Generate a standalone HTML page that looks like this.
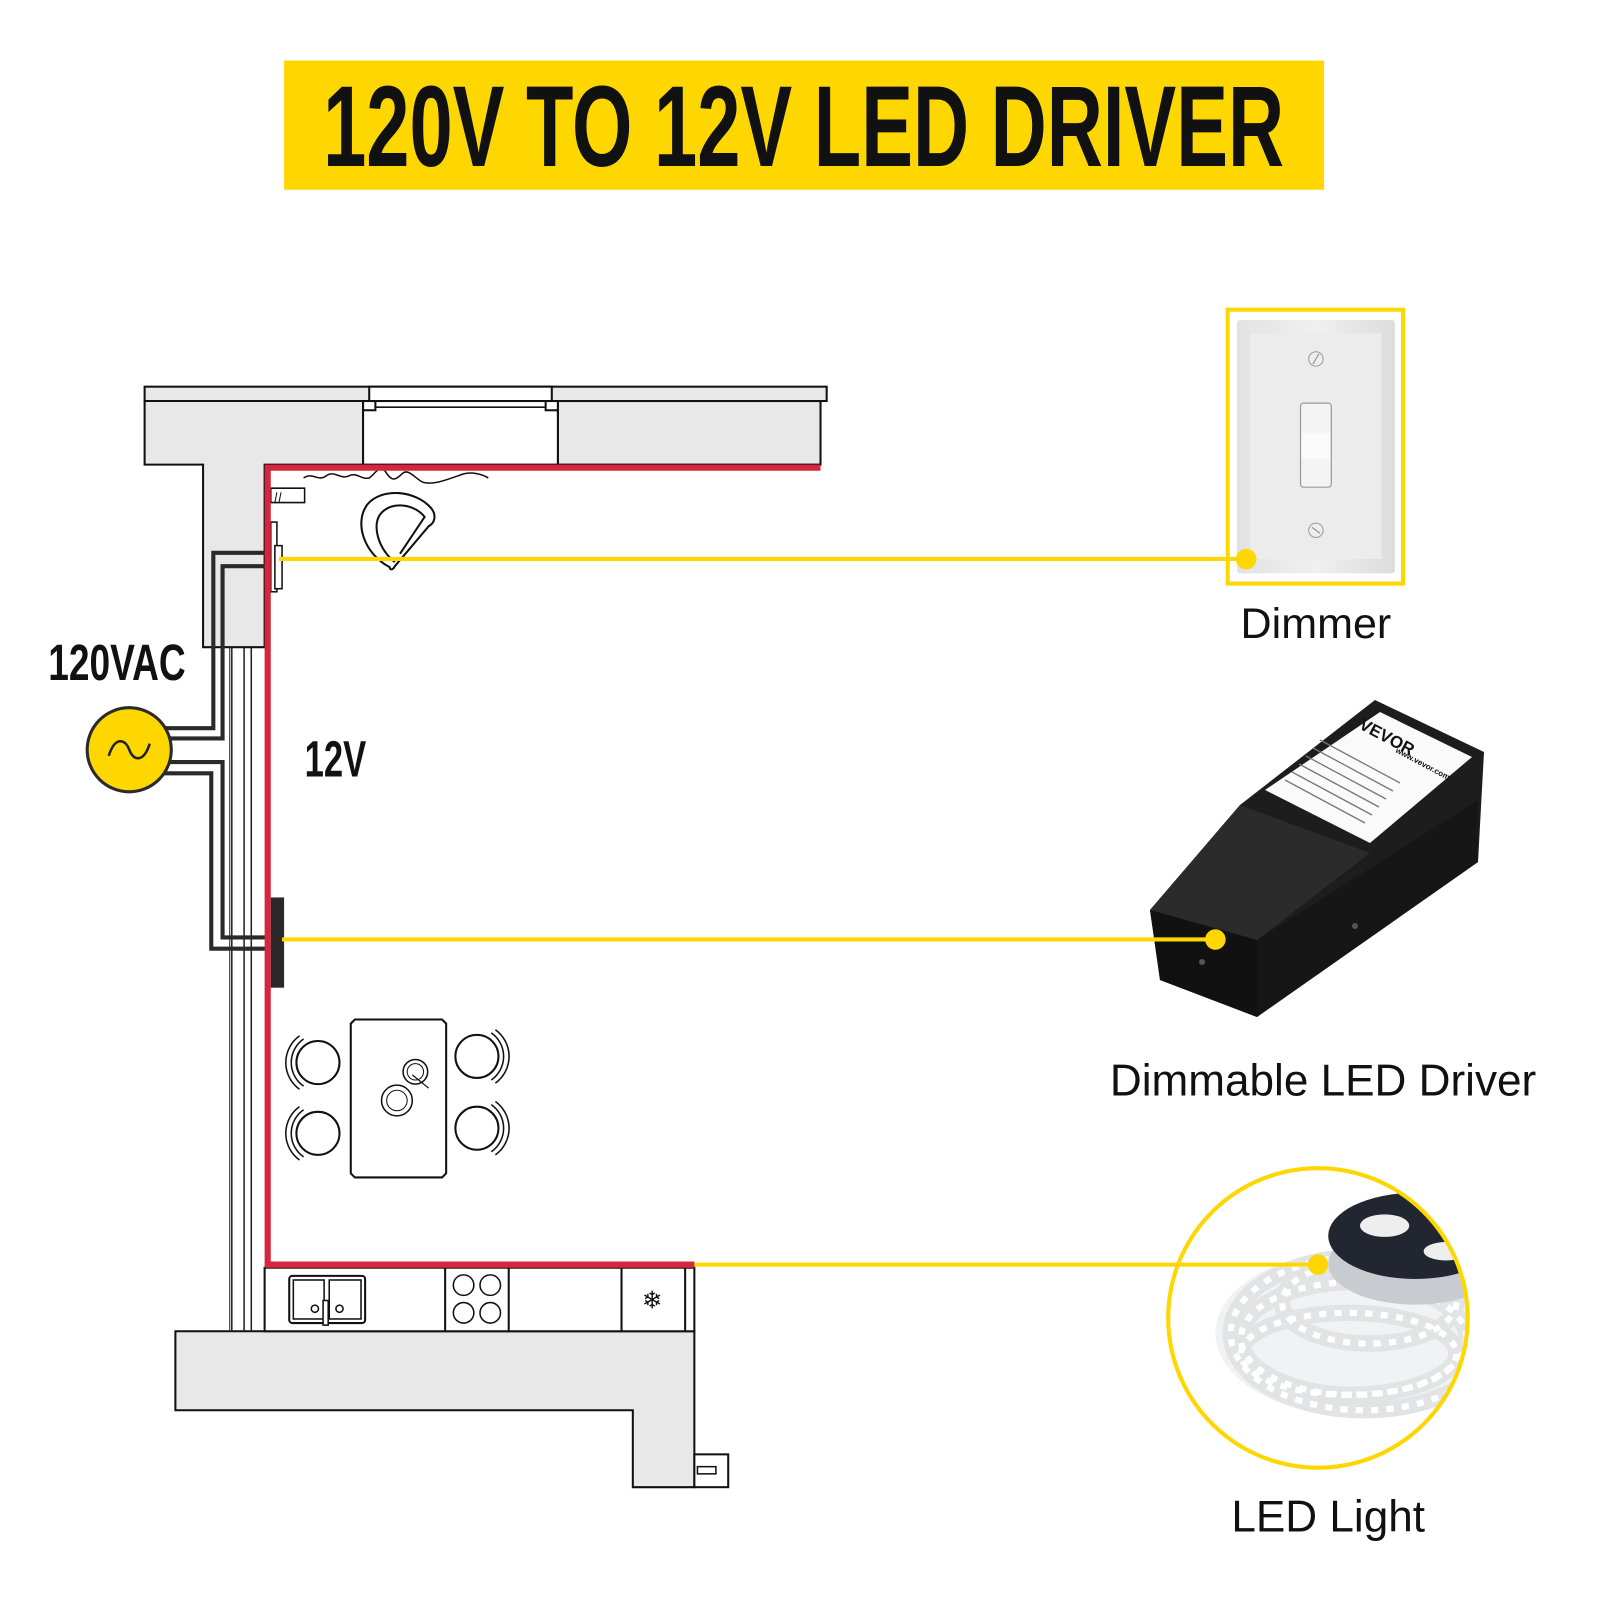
<!DOCTYPE html>
<html><head><meta charset="utf-8"><style>
html,body{margin:0;padding:0;background:#fff;}
svg{display:block;}
</style></head><body>
<svg width="1600" height="1600" viewBox="0 0 1560 1560" xmlns="http://www.w3.org/2000/svg">
<defs>
<clipPath id="cc"><circle cx="1285" cy="1285" r="145"/></clipPath>
<linearGradient id="pl" x1="0" y1="0" x2="1" y2="0"><stop offset="0" stop-color="#e2e2e2"/><stop offset="0.5" stop-color="#f0f0f0"/><stop offset="1" stop-color="#dcdcdc"/></linearGradient>
</defs>
<!-- title -->
<rect x="277" y="59" width="1014" height="126" fill="#FFD700"/>
<text x="315" y="162" font-family="'Liberation Sans Narrow','Liberation Sans',sans-serif" font-weight="bold" font-size="112" textLength="937" lengthAdjust="spacingAndGlyphs" fill="#111">120V TO 12V LED DRIVER</text>

<g stroke="#111" stroke-width="2">
<!-- top walls -->
<rect x="141" y="377" width="665" height="14" fill="#e8e8e8"/>
<rect x="360" y="377" width="178" height="14" fill="#fff"/>
<path d="M141 391 H354 V453 H258 V631 H198 V453 H141 Z" fill="#e8e8e8"/>
<rect x="354" y="391" width="190" height="62" fill="#fff"/>
<rect x="354" y="391" width="12" height="9" fill="#fff"/><rect x="532" y="391" width="12" height="9" fill="#fff"/>
<line x1="366" y1="397" x2="532" y2="397" stroke-width="1.5"/>
<rect x="544" y="391" width="256" height="62" fill="#e8e8e8"/>
<!-- bottom walls -->
<path d="M171 1298 H677 V1450 H617 V1375 H171 Z" fill="#e8e8e8"/>
<rect x="677" y="1418" width="33" height="32" fill="#fff"/>
<rect x="680" y="1430" width="18" height="7" fill="#fff" stroke-width="1.5"/>
<!-- counters -->
<rect x="258" y="1236" width="419" height="62" fill="#fff"/>
<line x1="434" y1="1236" x2="434" y2="1298"/><line x1="496" y1="1236" x2="496" y2="1298"/>
<line x1="606" y1="1236" x2="606" y2="1298"/><line x1="668" y1="1236" x2="668" y2="1298"/>
<rect x="282" y="1244" width="74" height="46" rx="3" fill="#fff"/>
<rect x="286" y="1248" width="30" height="38" fill="none" stroke-width="1.5"/>
<rect x="321" y="1248" width="31" height="38" fill="none" stroke-width="1.5"/>
<circle cx="307" cy="1276" r="3.5" fill="none" stroke-width="1.5"/><circle cx="331" cy="1276" r="3.5" fill="none" stroke-width="1.5"/>
<rect x="315" y="1268" width="5" height="24" fill="#fff" stroke-width="1.5"/>
<g fill="none" stroke-width="1.5"><circle cx="452" cy="1253" r="10"/><circle cx="478" cy="1253" r="10"/><circle cx="452" cy="1280" r="10"/><circle cx="478" cy="1280" r="10"/></g>
<text x="636" y="1276" font-size="24" text-anchor="middle" stroke="none" fill="#111" font-family="'DejaVu Sans',sans-serif">❄</text>
<!-- table & chairs -->
<path d="M346 994 H431 L435 998 V1144 L431 1148 H346 L342 1144 V998 Z" fill="#fff"/>
<g fill="none" stroke-width="2">
<circle cx="310" cy="1036" r="21"/><circle cx="310" cy="1105" r="21"/>
<circle cx="465" cy="1030" r="21"/><circle cx="465" cy="1100" r="21"/>
<path d="M296 1013 A28 28 0 0 0 296 1059" stroke-width="1.5"/><path d="M292 1010 A32 32 0 0 0 292 1062" stroke-width="1.5"/>
<path d="M296 1082 A28 28 0 0 0 296 1128" stroke-width="1.5"/><path d="M292 1079 A32 32 0 0 0 292 1131" stroke-width="1.5"/>
<path d="M479 1007 A28 28 0 0 1 479 1053" stroke-width="1.5"/><path d="M483 1004 A32 32 0 0 1 483 1056" stroke-width="1.5"/>
<path d="M479 1077 A28 28 0 0 1 479 1123" stroke-width="1.5"/><path d="M483 1074 A32 32 0 0 1 483 1126" stroke-width="1.5"/>
<circle cx="405" cy="1045" r="12" stroke-width="1.5"/><circle cx="405" cy="1045" r="8" stroke-width="1"/>
<circle cx="387" cy="1073" r="15" stroke-width="1.5"/><circle cx="387" cy="1073" r="10" stroke-width="1"/>
<line x1="402" y1="1048" x2="418" y2="1061" stroke-width="1.2"/>
<!-- armchair -->
<path d="M380 553 C355 540 345 510 358 492 C372 475 405 478 420 495 C426 502 424 510 418 513 L385 552 C383 556 380 556 380 553 Z" stroke-width="2"/>
<path d="M385 548 C368 535 362 510 372 500 C383 488 405 492 414 504 L390 540" stroke-width="2"/>
<!-- wavy -->
<path d="M296 466 C305 460 310 470 318 464 C326 458 332 468 340 464 C348 460 352 468 360 466 C366 462 370 452 376 460 C382 470 386 468 392 462 C398 456 404 466 412 470 C422 474 440 466 452 462 C460 460 470 462 476 466" stroke-width="1.5"/>
<path d="M264 476 H297 V490 H264 Z" stroke-width="1.5"/><line x1="270" y1="480" x2="268" y2="490" stroke-width="1"/><line x1="274" y1="480" x2="272" y2="490" stroke-width="1"/>
<rect x="264" y="509" width="6" height="68" stroke-width="1.5" fill="#fff"/>
<rect x="268" y="532" width="7" height="42" stroke-width="1.5" fill="#fff"/>
</g>
<!-- wires thin -->
<g stroke="#222" stroke-width="1.5"><line x1="226" y1="631" x2="226" y2="1298"/><line x1="238" y1="631" x2="238" y2="1298"/><line x1="245" y1="631" x2="245" y2="1298"/><line x1="224" y1="631" x2="224" y2="1298" stroke-width="1"/></g>
<g fill="none" stroke="#2a2a2a" stroke-width="4">
<path d="M160 710 H208 V539 H258"/>
<path d="M162 720 H217 V552 H258"/>
<path d="M162 743 H217 V914 H262"/>
<path d="M160 754 H206 V925 H262"/>
</g>
</g>
<!-- red -->
<path d="M800 456 H261 V1233 H677" fill="none" stroke="#d6263f" stroke-width="6"/>
<rect x="264" y="875" width="13" height="88" fill="#2a2826"/>
<!-- AC source -->
<circle cx="126" cy="731" r="41" fill="#FFD700" stroke="#2a2a2a" stroke-width="3"/>
<path d="M106 737 C112 718 122 720 126 731 C130 742 140 744 146 725" fill="none" stroke="#222" stroke-width="2.5"/>
<text x="47" y="663" font-family="'Liberation Sans Narrow','Liberation Sans',sans-serif" font-weight="bold" font-size="50" textLength="134" lengthAdjust="spacingAndGlyphs" fill="#111">120VAC</text>
<text x="297" y="757" font-family="'Liberation Sans Narrow','Liberation Sans',sans-serif" font-weight="bold" font-size="50" textLength="60" lengthAdjust="spacingAndGlyphs" fill="#111">12V</text>
<!-- dimmer -->
<rect x="1197" y="302" width="171" height="267" fill="none" stroke="#FFD700" stroke-width="4"/>
<rect x="1206" y="312" width="154" height="247" rx="3" fill="url(#pl)"/>
<rect x="1219" y="325" width="128" height="220" fill="#ececec"/>
<rect x="1268" y="393" width="30" height="82" rx="3" fill="#f4f4f4" stroke="#999" stroke-width="1.2"/>
<rect x="1269" y="422" width="28" height="25" fill="#fbfbfb"/>
<circle cx="1283" cy="350" r="7" fill="#eee" stroke="#999"/><line x1="1280" y1="355" x2="1286" y2="345" stroke="#888"/>
<circle cx="1283" cy="517" r="7" fill="#eee" stroke="#999"/><line x1="1279" y1="514" x2="1287" y2="520" stroke="#888"/>
<line x1="272" y1="545" x2="1215" y2="545" stroke="#FFD700" stroke-width="4"/>
<circle cx="1215" cy="545" r="10" fill="#FFD700"/>
<text x="1283" y="622" text-anchor="middle" font-family="'Liberation Sans',sans-serif" font-size="42" fill="#111">Dimmer</text>
<!-- driver -->
<g transform="scale(0.975)">
<polygon points="1240,805 1375,700 1484,752 1478,862 1257,1017 1160,980 1150,910" fill="#1d1d1d"/>
<polygon points="1257,940 1478,800 1478,862 1257,1017" fill="#161616"/>
<polygon points="1150,910 1240,805 1370,853 1257,940" fill="#2b2b2b"/>
<polygon points="1150,910 1257,940 1257,1017 1160,980" fill="#111"/>
<polygon points="1380,712 1472,757 1370,843 1265,790" fill="#fafafa"/>
<text x="0" y="0" transform="translate(1358,728) rotate(28)" font-family="'Liberation Sans',sans-serif" font-weight="bold" font-size="17" fill="#111">VEVOR</text>
<text x="0" y="0" transform="translate(1395,752) rotate(28)" font-family="'Liberation Sans',sans-serif" font-weight="bold" font-size="8" fill="#111">www.vevor.com</text>
<g stroke="#777" stroke-width="1.3"><line x1="1320" y1="740" x2="1400" y2="783"/><line x1="1313" y1="748" x2="1393" y2="791"/><line x1="1306" y1="756" x2="1386" y2="799"/><line x1="1299" y1="764" x2="1379" y2="807"/><line x1="1292" y1="772" x2="1372" y2="815"/><line x1="1285" y1="780" x2="1365" y2="823"/></g>
<circle cx="1202" cy="962" r="3" fill="#555"/><circle cx="1355" cy="926" r="3" fill="#555"/>
</g>
<line x1="275" y1="916" x2="1185" y2="916" stroke="#FFD700" stroke-width="4"/>
<circle cx="1185" cy="916" r="10" fill="#FFD700"/>
<text x="1290" y="1068" text-anchor="middle" font-family="'Liberation Sans',sans-serif" font-size="43" fill="#111">Dimmable LED Driver</text>
<!-- LED -->
<g clip-path="url(#cc)">
<ellipse cx="1320" cy="1300" rx="135" ry="80" fill="#f1f2f3"/>
<g fill="none" stroke="#e2e3e5" stroke-width="16">
<ellipse cx="1320" cy="1305" rx="110" ry="55"/>
<ellipse cx="1330" cy="1300" rx="130" ry="75"/>
<ellipse cx="1315" cy="1320" rx="105" ry="40"/>
<ellipse cx="1335" cy="1270" rx="85" ry="40"/>
</g>
<g fill="none" stroke="#fff" stroke-width="6" stroke-dasharray="7 8">
<ellipse cx="1320" cy="1305" rx="110" ry="55"/><ellipse cx="1330" cy="1300" rx="130" ry="75"/><ellipse cx="1335" cy="1270" rx="85" ry="40"/><ellipse cx="1315" cy="1320" rx="105" ry="40"/>
</g>
<ellipse cx="1380" cy="1232" rx="85" ry="40" fill="#c8ccd0"/>
<ellipse cx="1380" cy="1205" rx="85" ry="42" fill="#222630"/>
<ellipse cx="1350" cy="1195" rx="24" ry="11" fill="#eee"/>
<ellipse cx="1410" cy="1220" rx="22" ry="9" fill="#eee"/>
</g>
<circle cx="1285" cy="1285" r="146" fill="none" stroke="#FFD700" stroke-width="4"/>
<line x1="677" y1="1233" x2="1285" y2="1233" stroke="#FFD700" stroke-width="4"/>
<circle cx="1285" cy="1233" r="10" fill="#FFD700"/>
<text x="1295" y="1493" text-anchor="middle" font-family="'Liberation Sans',sans-serif" font-size="43" fill="#111">LED Light</text>
</svg>
</body></html>
